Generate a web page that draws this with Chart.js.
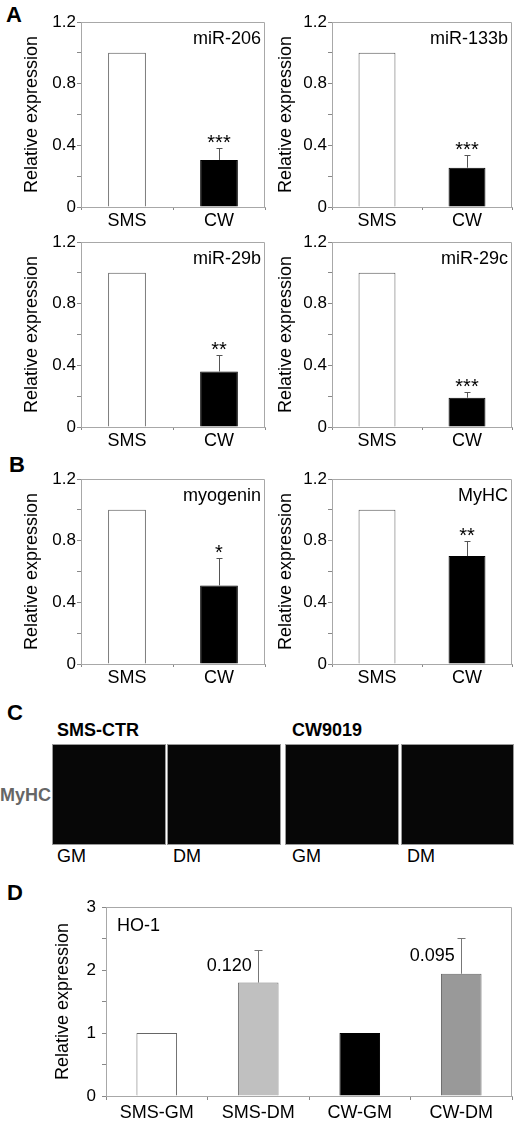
<!DOCTYPE html>
<html><head><meta charset="utf-8">
<script src="https://cdn.jsdelivr.net/npm/chart.js@4.4.1/dist/chart.umd.min.js"></script>
<style>
body{margin:0;background:#fff;}
#wrap{position:relative;width:520px;height:1124px;overflow:hidden;font-family:"Liberation Sans",Arial,sans-serif;background:#fff;}
canvas{position:absolute;}
.t{position:absolute;white-space:nowrap;font-size:18px;line-height:18px;color:#000;}
.b{font-weight:bold;}
.L{position:absolute;font-size:22px;line-height:22px;font-weight:bold;color:#000;}
.img{position:absolute;background:#070707;border:1px solid #9a9a9a;box-sizing:border-box;}
</style></head><body><div id="wrap">
<div class="L" style="left:6px;top:4px;">A</div>
<div class="L" style="left:9px;top:454px;">B</div>
<div class="L" style="left:7px;top:702px;">C</div>
<div class="L" style="left:7px;top:882px;">D</div>

<canvas id="c1" width="270" height="235" style="left:0px;top:0px;width:270px;height:235px;"></canvas>
<canvas id="c2" width="266" height="235" style="left:251px;top:0px;width:266px;height:235px;"></canvas>
<canvas id="c3" width="270" height="235" style="left:0px;top:220px;width:270px;height:235px;"></canvas>
<canvas id="c4" width="266" height="235" style="left:251px;top:220px;width:266px;height:235px;"></canvas>
<canvas id="c5" width="270" height="235" style="left:0px;top:457px;width:270px;height:235px;"></canvas>
<canvas id="c6" width="266" height="235" style="left:251px;top:457px;width:266px;height:235px;"></canvas>
<canvas id="c7" width="517" height="239" style="left:0px;top:885px;width:517px;height:239px;"></canvas>

<div class="t b" style="left:57px;top:721px;">SMS-CTR</div>
<div class="t b" style="left:292px;top:721px;">CW9019</div>
<div class="t b" style="left:0px;top:786px;color:#666;">MyHC</div>
<div class="img" style="left:52px;top:744px;width:114px;height:101px;"></div>
<div class="img" style="left:167px;top:744px;width:114px;height:101px;"></div>
<div class="img" style="left:285px;top:744px;width:114px;height:101px;"></div>
<div class="img" style="left:401px;top:744px;width:113px;height:101px;"></div>
<div class="t" style="left:57px;top:847px;">GM</div>
<div class="t" style="left:173px;top:847px;">DM</div>
<div class="t" style="left:292px;top:847px;">GM</div>
<div class="t" style="left:407px;top:847px;">DM</div>
</div>
<script>
// ---- data ----
const groups = ['SMS', 'CW'];
const genes = ['miR-206', 'miR-133b', 'miR-29b', 'miR-29c', 'myogenin', 'MyHC'];
const smsVals = [1, 1, 1, 1, 1, 1];
const cwVals = [0.305, 0.255, 0.36, 0.19, 0.51, 0.70];
const cwErr = [0.08, 0.08, 0.11, 0.035, 0.18, 0.10];
const cwStars = ['***', '***', '**', '***', '*', '**'];
const yLabelsSmall = ['0', '0.4', '0.8', '1.2'];

const hoCats = ['SMS-GM', 'SMS-DM', 'CW-GM', 'CW-DM'];
const hoVals = [1, 1.80, 1, 1.94];
const hoErr = [0, 0.52, 0, 0.56];
const hoP = ['', '0.120', '', '0.095'];
const yLabelsHO = ['0', '1', '2', '3'];

const FONT = '"Liberation Sans", Arial, sans-serif';

const extras = {
  id: 'extras',
  afterDatasetsDraw(chart, args, o) {
    const ctx = chart.ctx, a = chart.chartArea, ys = chart.scales.y;
    const meta = chart.getDatasetMeta(0);
    const vals = chart.data.datasets[0].data;
    ctx.save();
    // frame (top & right)
    ctx.strokeStyle = '#a8a8a8'; ctx.lineWidth = 1;
    ctx.beginPath();
    ctx.moveTo(Math.round(a.left) + 0.5, Math.round(a.top) + 0.5);
    ctx.lineTo(Math.round(a.right) - 0.5, Math.round(a.top) + 0.5);
    ctx.lineTo(Math.round(a.right) - 0.5, Math.round(a.bottom));
    ctx.stroke();
    // error bars
    ctx.strokeStyle = o.errColor; ctx.lineWidth = 1;
    o.errs.forEach((e, i) => {
      if (!e) return;
      const x = Math.round(meta.data[i].x) + 0.5;
      const y0 = ys.getPixelForValue(vals[i]);
      const y1 = Math.round(ys.getPixelForValue(vals[i] + e)) + 0.5;
      ctx.beginPath();
      ctx.moveTo(x, y0); ctx.lineTo(x, y1);
      ctx.moveTo(x - o.cap, y1); ctx.lineTo(x + o.cap, y1);
      ctx.stroke();
    });
    ctx.fillStyle = '#000';
    // significance marks
    if (o.stars) {
      ctx.font = '20px ' + FONT; ctx.textAlign = 'center'; ctx.textBaseline = 'alphabetic';
      o.stars.forEach((s, i) => {
        if (!s) return;
        const y1 = ys.getPixelForValue(vals[i] + o.errs[i]);
        ctx.fillText(s, meta.data[i].x, y1 + 1);
      });
    }
    // p-values
    if (o.pvals) {
      ctx.font = '18px ' + FONT; ctx.textAlign = 'center'; ctx.textBaseline = 'middle';
      o.pvals.forEach((s, i) => {
        if (!s) return;
        const y0 = ys.getPixelForValue(vals[i]);
        const y1 = ys.getPixelForValue(vals[i] + o.errs[i]);
        ctx.fillText(s, meta.data[i].x - 29, (y0 + y1) / 2);
      });
    }
    // panel title
    ctx.font = '18px ' + FONT; ctx.textBaseline = 'middle';
    if (o.titleAlign === 'right') {
      ctx.textAlign = 'right';
      ctx.fillText(o.title, a.right - 4, a.top + 17);
    } else {
      ctx.textAlign = 'left';
      ctx.fillText(o.title, a.left + 11, a.top + 19);
    }
    ctx.restore();
  }
};

function makeChart(id, labels, values, errs, cfg) {
  return new Chart(document.getElementById(id), {
    type: 'bar',
    data: {
      labels: labels,
      datasets: [{
        data: values,
        backgroundColor: cfg.fill,
        borderColor: cfg.border,
        borderWidth: 1,
        borderSkipped: 'bottom',
        barPercentage: cfg.barPct,
        categoryPercentage: 1
      }]
    },
    options: {
      responsive: false,
      animation: false,
      events: [],
      layout: { padding: { top: 22, right: 5, left: 0, bottom: 0 } },
      plugins: {
        legend: { display: false },
        tooltip: { enabled: false },
        extras: {
          errs: errs, stars: cfg.stars, pvals: cfg.pvals, title: cfg.title,
          titleAlign: cfg.titleAlign, cap: cfg.cap, errColor: cfg.errColor
        }
      },
      scales: {
        x: {
          offset: true,
          grid: { display: true, offset: true, drawOnChartArea: false, drawTicks: true, tickLength: cfg.xTick, color: '#888' },
          border: { display: true, color: '#a8a8a8' },
          ticks: { color: '#000', font: { family: FONT, size: 18 }, padding: cfg.xPad, maxRotation: 0, autoSkip: false },
          afterFit: s => { s.height = 28; }
        },
        y: {
          min: 0, max: cfg.yMax,
          grid: { display: true, drawOnChartArea: false, drawTicks: true, tickLength: 4, color: '#888' },
          border: { display: true, color: '#a8a8a8' },
          ticks: {
            stepSize: cfg.step, color: '#000', font: { family: FONT, size: 17 }, padding: cfg.yPad,
            autoSkip: false,
            callback: v => {
              const lab = cfg.yLabels.find(l => Math.abs(Number(l) - v) < 1e-6);
              return lab === undefined ? '' : lab;
            }
          },
          title: {
            display: true, text: 'Relative expression', color: '#000',
            font: { family: FONT, size: 18, lineHeight: 1.2 },
            padding: { top: cfg.titlePad, bottom: 0 }
          },
          afterFit: s => { s.width = cfg.yWidth; }
        }
      }
    },
    plugins: [extras]
  });
}

const ids = ['c1', 'c2', 'c3', 'c4', 'c5', 'c6'];
ids.forEach((id, k) => {
  const right = (k % 2) === 1;
  makeChart(id, groups, [smsVals[k], cwVals[k]], [0, cwErr[k]], {
    fill: ['#ffffff', '#000000'],
    border: ['#555555', '#000000'],
    barPct: 0.41,
    stars: ['', cwStars[k]],
    title: genes[k], titleAlign: 'right',
    cap: 3, errColor: '#555',
    yMax: 1.2, step: 0.2, yLabels: yLabelsSmall,
    yWidth: 81, yPad: 1, titlePad: right ? 24 : 21,
    xTick: 3, xPad: 0
  });
});

makeChart('c7', hoCats, hoVals, hoErr, {
  fill: ['#ffffff', '#c0c0c0', '#000000', '#999999'],
  border: ['#666666', '#777777', '#000000', '#666666'],
  barPct: 0.40,
  stars: null, pvals: hoP,
  title: 'HO-1', titleAlign: 'left',
  cap: 4, errColor: '#777',
  yMax: 3, step: 0.5, yLabels: yLabelsHO,
  yWidth: 106, yPad: 6, titlePad: 52,
  xTick: 4, xPad: 2
});
</script>
</body></html>
